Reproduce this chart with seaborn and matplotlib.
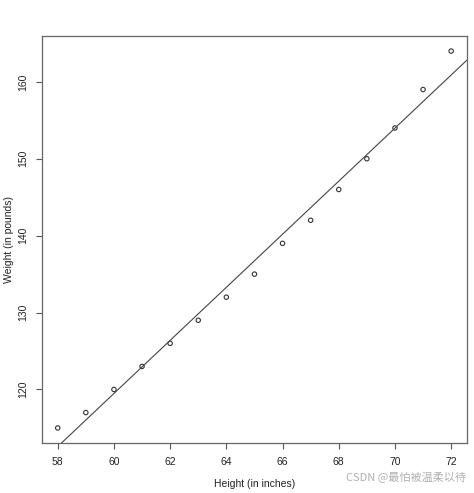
import numpy as np
import pandas as pd
import matplotlib
matplotlib.use("Agg")
from matplotlib import pyplot as plt
import seaborn as sns

# women dataset (height vs weight)
height = [58, 59, 60, 61, 62, 63, 64, 65, 66, 67, 68, 69, 70, 71, 72]
weight = [115, 117, 120, 123, 126, 129, 132, 135, 139, 142, 146, 150, 154, 159, 164]
x_ticks = [58, 60, 62, 64, 66, 68, 70, 72]
y_ticks = [120, 130, 140, 150, 160]

df = pd.DataFrame({"height": height, "weight": weight})

sns.set_theme(style="white")
plt.rcParams['font.family'] = ['Liberation Sans', 'Noto Sans CJK SC', 'DejaVu Sans']

fig = plt.figure(figsize=(4.74, 4.93), dpi=100)
ax = fig.add_axes([0.0886, 0.1014, 0.8964, 0.8256])

sns.scatterplot(data=df, x="height", y="weight", ax=ax, marker="o", s=10,
                facecolor="none", edgecolor="#333333", linewidth=0.8)

# least squares fit, like abline(lm(weight ~ height))
slope, intercept = np.polyfit(df["height"], df["weight"], 1)
ax.axline((0, intercept), slope=slope, color="#444444", linewidth=0.8)

# R style 4% padding
xr = max(height) - min(height)
yr = max(weight) - min(weight)
ax.set_xlim(min(height) - 0.04 * xr, max(height) + 0.04 * xr)
ax.set_ylim(min(weight) - 0.04 * yr, max(weight) + 0.04 * yr)

ax.set_xticks(x_ticks)
ax.set_yticks(y_ticks)
ax.tick_params(axis="both", length=4, width=0.8, color="#555555",
               labelsize=7.5, labelcolor="#222222", direction="out",
               bottom=True, left=True, pad=6)
for lab in ax.get_yticklabels():
    lab.set_rotation(90)
    lab.set_va("center")
for s in ax.spines.values():
    s.set_color("#666666")
    s.set_linewidth(0.9)

ax.set_xlabel("Height (in inches)", fontsize=7.5, color="#222222")
ax.set_ylabel("Weight (in pounds)", fontsize=7.5, color="#222222")
ax.xaxis.set_label_coords(0.5, -0.088)
ax.yaxis.set_label_coords(-0.066, 0.5)

fig.text(0.983, 0.02, "CSDN @最怕被温柔以待", ha="right", va="bottom",
         fontsize=8, color="#b0b0b0", family=['Noto Sans CJK SC', 'DejaVu Sans'])

fig.savefig("out.png", dpi=100)
